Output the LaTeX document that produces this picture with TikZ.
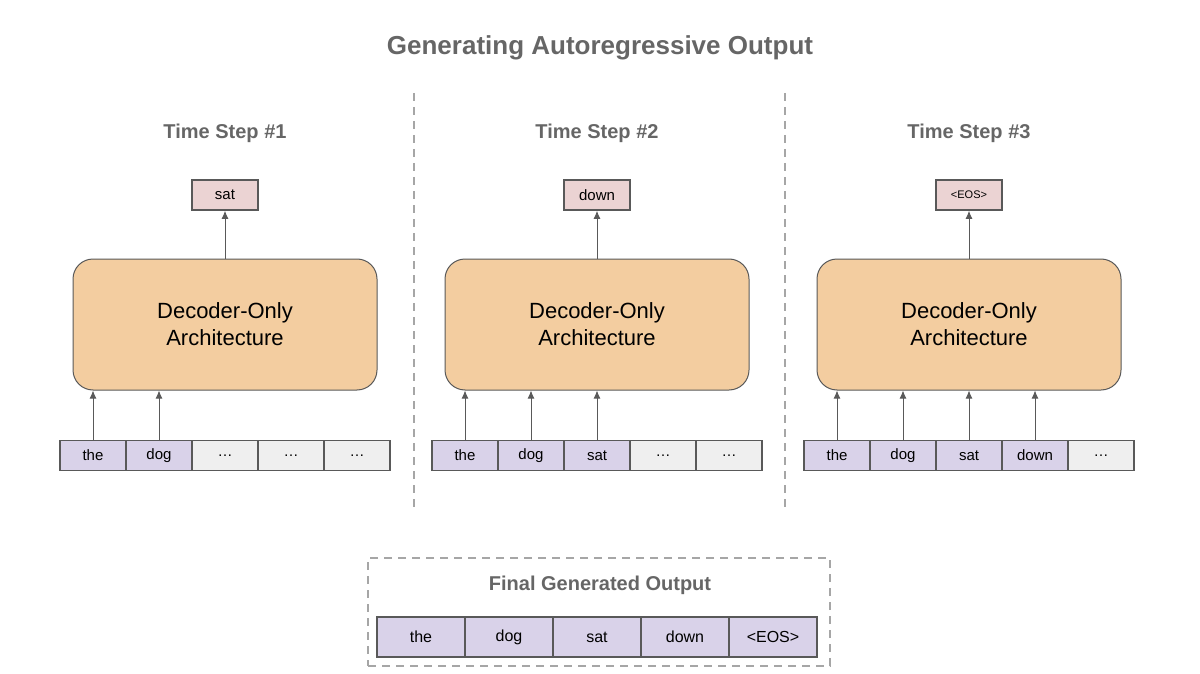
\documentclass[tikz,border=0pt]{standalone}
\usepackage{fontspec}
\setmainfont{Liberation Sans}
\usetikzlibrary{arrows.meta, positioning}
\definecolor{tokfill}{HTML}{D9D2E9}
\definecolor{emptyfill}{HTML}{EFEFEF}
\definecolor{outfill}{HTML}{EBD3D3}
\definecolor{decfill}{HTML}{F3CDA0}
\definecolor{edge}{HTML}{595959}
\definecolor{titlegray}{HTML}{666666}
\begin{document}
\begin{tikzpicture}[
        x=1pt, y=-1pt,
        cell/.style={rectangle, draw=edge, line width=1.5pt, minimum width=66pt, minimum height=30pt, inner sep=0pt, font=\fontsize{15}{16}\selectfont},
        token/.style={cell, fill=tokfill},
        blank/.style={cell, fill=emptyfill},
        outtok/.style={rectangle, draw=edge, line width=1.5pt, fill=outfill, minimum width=66pt, minimum height=30pt, inner sep=0pt, font=\fontsize{15}{16}\selectfont},
        decoder/.style={rectangle, rounded corners=20pt, draw=edge, line width=1pt, fill=decfill, minimum width=304pt, minimum height=131pt, align=center, font=\fontsize{22}{27}\selectfont},
        steptitle/.style={font=\bfseries\fontsize{20}{22}\selectfont, text=titlegray},
        message/.style={-{Latex[length=8pt,width=7pt]}, edge, line width=1pt},
        divider/.style={dashed, dash pattern=on 8pt off 6pt, draw=gray!70, line width=1.5pt},
    ]
        \useasboundingbox (0,0) rectangle (1200,674);
        \node[font=\bfseries\fontsize{26}{28}\selectfont, text=titlegray] (title) at (600,48) {Generating Autoregressive Output};

        % three time steps
        \foreach \s/\cx/\out/\n/\labels in {1/225/sat/2/{the,dog,\dots,\dots,\dots}, 2/597/down/3/{the,dog,sat,\dots,\dots}, 3/969/{\fontsize{11}{12}\selectfont <EOS>}/4/{the,dog,sat,down,\dots}} {
            \node[steptitle] (step\s) at (\cx,133) {Time Step \#\s};
            \node[outtok] (out\s) at (\cx,195) {\out};
            \node[decoder] (dec\s) at (\cx,324.5) {Decoder-Only\\Architecture};
            \foreach \t [count=\i] in \labels {
                \ifnum\i>\n
                    \node[blank] (c\s\i) at ({\cx-198+66*\i},455.5) {\t};
                \else
                    \node[token] (c\s\i) at ({\cx-198+66*\i},455.5) {\t};
                    \draw[message] (c\s\i.north) -- (c\s\i.north |- dec\s.south);
                \fi
            }
            \draw[message] (dec\s.north) -- (out\s.south);
        }

        \coordinate (d1top) at (414,93);
        \coordinate (d1bot) at (414,508);
        \coordinate (d2top) at (785,93);
        \coordinate (d2bot) at (785,508);
        \draw[divider] (d1top) -- (d1bot);
        \draw[divider] (d2top) -- (d2bot);

        % final output
        \node[draw=gray!70, line width=1.5pt, dash pattern=on 8pt off 6pt, minimum width=462pt, minimum height=108pt] (final) at (599,612) {};
        \node[steptitle] (finaltitle) at (600,585) {Final Generated Output};
        \foreach \t [count=\i] in {the,dog,sat,down,<EOS>}
            \node[token, minimum width=88pt, minimum height=40pt, font=\fontsize{16}{17}\selectfont] (f\i) at ({333+88*\i},637) {\t};
\end{tikzpicture}
\end{document}
